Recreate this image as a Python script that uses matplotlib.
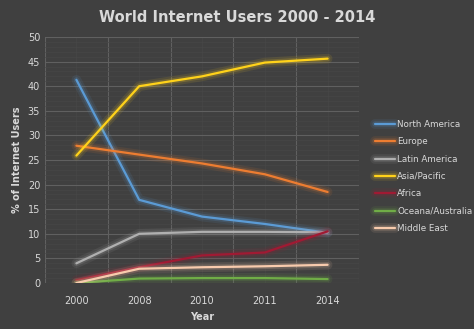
"""World internet users share by region, 2000-2014."""

import matplotlib

matplotlib.use("Agg")
import matplotlib.pyplot as plt
import matplotlib.patheffects as pe
import numpy as np

years = ["2000", "2008", "2010", "2011", "2014"]
regions = [
    "North America",
    "Europe",
    "Latin America",
    "Asia/Pacific",
    "Africa",
    "Oceana/Australia",
    "Middle East",
]
north_america = [41.3, 16.9, 13.5, 12.0, 10.2]
europe = [27.9, 26.1, 24.3, 22.1, 18.5]
latin_america = [4.0, 10.0, 10.4, 10.4, 10.3]
asia_pacific = [25.9, 40.0, 42.0, 44.8, 45.6]
africa = [0.6, 3.2, 5.6, 6.2, 10.5]
oceania = [0.0, 0.9, 1.0, 1.0, 0.8]
middle_east = [0.0, 2.9, 3.2, 3.4, 3.7]

series = [north_america, europe, latin_america, asia_pacific, africa, oceania, middle_east]
colors = ["#5b9bd5", "#ed7d31", "#b0b0b0", "#ffd21a", "#a01a33", "#70ad47", "#f8cbad"]

BG = "#404040"
TEXT = "#d9d9d9"

fig = plt.figure(figsize=(4.74, 3.29), dpi=100, facecolor=BG)
ax = fig.add_axes([45 / 474, 1 - 283 / 329, 314 / 474, 246 / 329], facecolor=BG)

x = np.arange(len(years))
for values, color, label in zip(series, colors, regions):
    ax.plot(
        x,
        values,
        color=color,
        lw=1.6,
        label=label,
        solid_capstyle="round",
        path_effects=[
            pe.Stroke(linewidth=7, foreground=color, alpha=0.1),
            pe.Stroke(linewidth=4, foreground=color, alpha=0.18),
            pe.Normal(),
        ],
    )

ax.set_xlim(-0.5, len(years) - 0.5)
ax.set_ylim(0, 50)
ax.set_xticks(x)
ax.set_xticklabels(years)
ax.set_xticks(np.arange(-0.5, len(years), 1.0), minor=True)
ax.set_yticks(np.arange(0, 51, 5))
ax.set_yticks(np.arange(0, 51, 1), minor=True)

ax.grid(True, which="major", axis="y", color="#606060", lw=0.8)
ax.grid(True, which="minor", axis="y", color="#474747", lw=0.5)
ax.grid(True, which="minor", axis="x", color="#606060", lw=0.8)
ax.grid(True, which="major", axis="x", color="#474747", lw=0.5)
ax.set_axisbelow(True)

for spine in ax.spines.values():
    spine.set_visible(False)
ax.tick_params(which="both", length=0, colors=TEXT, labelsize=7)
ax.tick_params(axis="x", pad=9)

ax.set_ylabel("% of Internet Users", color=TEXT, fontsize=7, fontweight="bold")
ax.set_xlabel("Year", color=TEXT, fontsize=7, fontweight="bold", labelpad=5)
fig.text(0.5, 1 - 17 / 329, "World Internet Users 2000 - 2014", ha="center",
         va="center", color=TEXT, fontsize=10.5, fontweight="bold")

legend = ax.legend(
    loc="center left",
    bbox_to_anchor=(1.052, 0.433),
    borderaxespad=0,
    borderpad=0,
    frameon=False,
    fontsize=6.3,
    handlelength=2.2,
    labelspacing=0.95,
    handletextpad=0.3,
)
for text in legend.get_texts():
    text.set_color(TEXT)

fig.savefig("out.png", dpi=100, facecolor=BG)
